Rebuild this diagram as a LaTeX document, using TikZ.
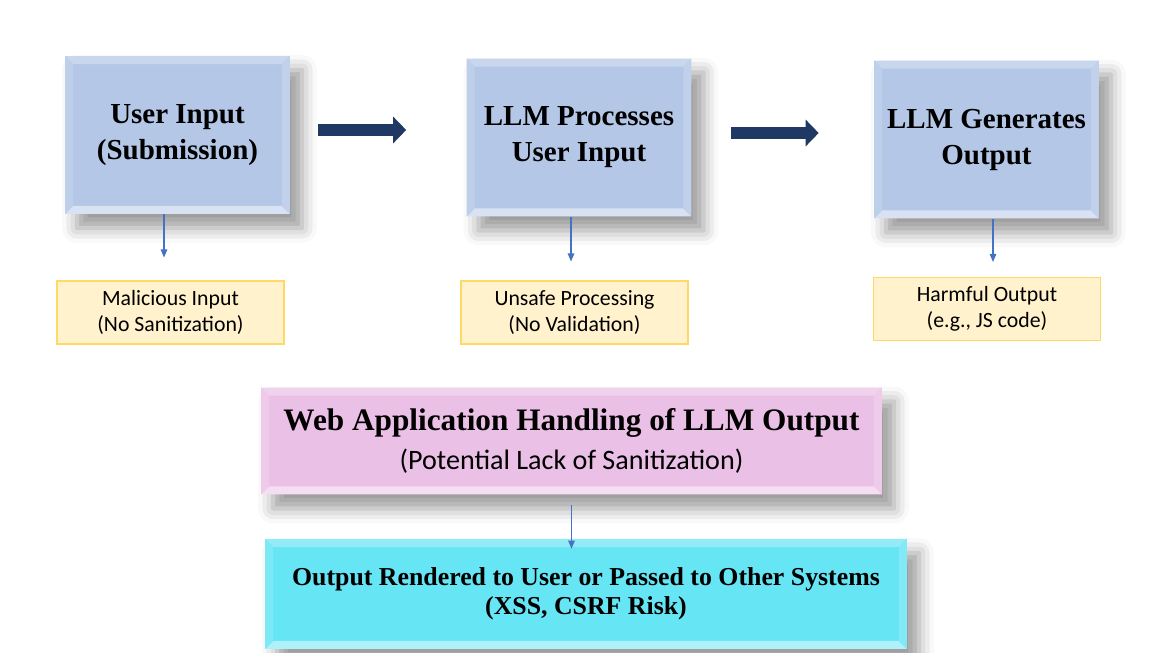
\documentclass[tikz,border=0pt]{standalone}
\usepackage{fontspec}
\setmainfont{Liberation Serif}
\newfontfamily\calibri{Carlito}
\usetikzlibrary{arrows.meta,shadows.blur}

\definecolor{stepblue}{HTML}{B4C7E7}
\definecolor{notefill}{HTML}{FFF2CC}
\definecolor{noteline}{HTML}{FFD966}
\definecolor{webpink}{HTML}{EBC0E6}
\definecolor{outcyan}{HTML}{66E5F5}
\definecolor{navy}{HTML}{203864}
\definecolor{linkblue}{HTML}{4472C4}

\tikzset{
  bevel box/.style={fill=#1, align=center, inner sep=0pt,
    blur shadow={shadow xshift=0.24cm, shadow yshift=-0.28cm,
                 shadow blur radius=0.3cm, shadow opacity=40},
    path picture={
      \coordinate (nw) at (path picture bounding box.north west);
      \coordinate (ne) at (path picture bounding box.north east);
      \coordinate (sw) at (path picture bounding box.south west);
      \coordinate (se) at (path picture bounding box.south east);
      \fill[#1!72!white] (nw) -- (ne) -- ([shift={(-0.16cm,-0.16cm)}]ne) -- ([shift={(0.16cm,-0.16cm)}]nw) -- cycle;
      \fill[#1!52!white] (sw) -- (se) -- ([shift={(-0.16cm,0.16cm)}]se) -- ([shift={(0.16cm,0.16cm)}]sw) -- cycle;
      \fill[#1!86!white] (nw) -- (sw) -- ([shift={(0.16cm,0.16cm)}]sw) -- ([shift={(0.16cm,-0.16cm)}]nw) -- cycle;
      \fill[#1!82!white] (ne) -- (se) -- ([shift={(-0.16cm,0.16cm)}]se) -- ([shift={(-0.16cm,-0.16cm)}]ne) -- cycle;
    }},
}

\begin{document}
\begin{tikzpicture}[x=0.02cm,y=-0.02cm,
    main box/.style={bevel box=stepblue, minimum width=4.5cm, minimum height=3.16cm,
                     font=\fontsize{16.5}{20.5}\selectfont\bfseries},
    note box/.style={draw=noteline, fill=notefill, line width=0.6pt, align=center, inner sep=0pt,
                     minimum width=4.54cm, minimum height=1.26cm,
                     font=\calibri\fontsize{12.4}{15}\selectfont},
    fat arrow/.style={navy, line width=0.24cm, -{Triangle[length=0.26cm,width=0.52cm]}},
    thin arrow/.style={linkblue, line width=0.6pt, -{Triangle[length=0.16cm,width=0.13cm]}}]
	\useasboundingbox (0,0) rectangle (1161,653);

	\node[main box] (input) at (177.5,135) {User Input\\(Submission)};
	\node[main box] (proc) at (579,137.5) {LLM Processes\\User Input};
	\node[main box] (gen) at (986.5,139.5) {LLM Generates\\Output};

	\node[note box] (mal) at (170.5,312.5) {Malicious Input\\(No Sanitization)};
	\node[note box] (unsafe) at (574.5,312.5) {Unsafe Processing\\(No Validation)};
	\node[note box] (harm) at (987,309) {Harmful Output\\(e.g., JS code)};

	\node[bevel box=webpink, minimum width=12.42cm, minimum height=2.14cm,
	      font=\fontsize{17.8}{22}\selectfont] (web) at (571.5,441)
	      {\textbf{Web Application Handling of LLM Output}\\{\calibri\fontsize{16}{22}\selectfont (Potential Lack of Sanitization)}};
	\node[bevel box=outcyan, minimum width=12.84cm, minimum height=2.2cm,
	      font=\fontsize{14.7}{16.5}\selectfont\bfseries] (out) at (586,594)
	      {Output Rendered to User or Passed to Other Systems\\(XSS, CSRF Risk)};

	\draw[fat arrow, shorten <=0.56cm, shorten >=1.2cm] ([yshift=0.1cm]input.east) -- ([yshift=0.1cm]input.east -| proc.west);
	\draw[fat arrow, shorten <=0.78cm, shorten >=1.1cm] ([yshift=0.09cm]proc.east) -- ([yshift=0.09cm]proc.east -| gen.west);

	\draw[thin arrow, shorten >=0.46cm] ([xshift=-0.27cm]input.south) -- ([xshift=-0.27cm]input.south |- mal.north);
	\draw[thin arrow, shorten >=0.38cm] ([xshift=-0.16cm]proc.south) -- ([xshift=-0.16cm]proc.south |- unsafe.north);
	\draw[thin arrow, shorten >=0.3cm] ([xshift=0.13cm]gen.south) -- ([xshift=0.13cm]gen.south |- harm.north);
	\draw[thin arrow, shorten <=0.2cm, shorten >=-0.2cm] (web.south) -- (web.south |- out.north);
\end{tikzpicture}
\end{document}
